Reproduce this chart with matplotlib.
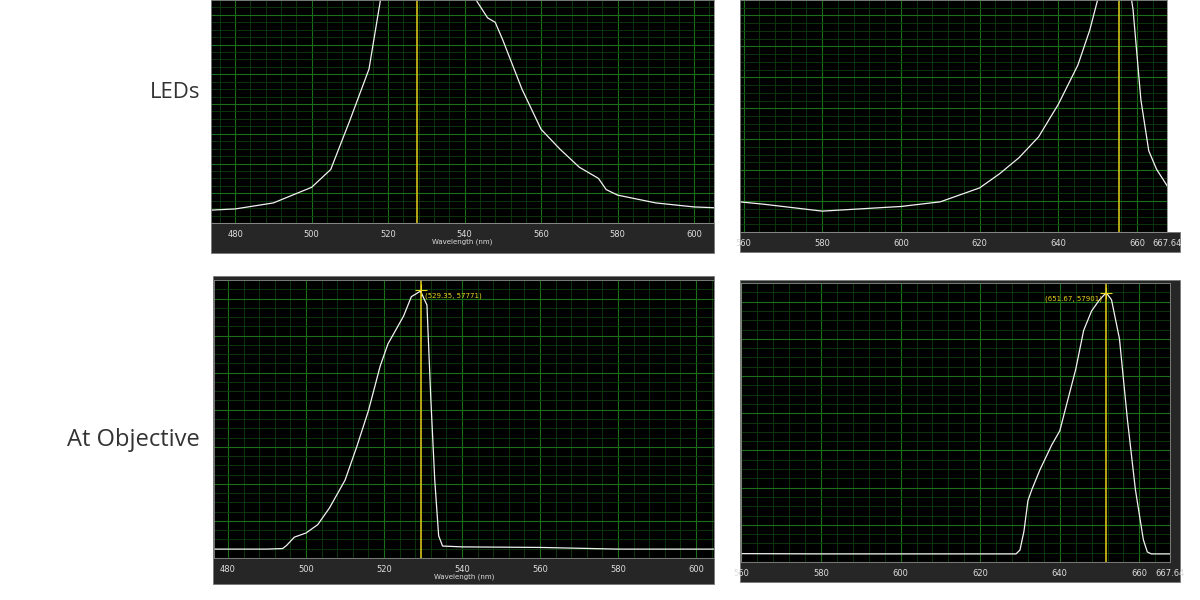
import matplotlib
matplotlib.use("Agg")
import matplotlib.pyplot as plt
import numpy as np
from matplotlib.patches import Rectangle
from matplotlib.ticker import MultipleLocator

# Relative intensity (fraction of visible plot height) vs wavelength
led_green_nm = [474, 480, 490, 500, 505, 510, 515, 518, 520, 525, 530, 535, 540, 543, 546, 548,
                550, 555, 560, 565, 570, 575, 577, 580, 590, 600, 606]
led_green_val = [0.058, 0.063, 0.09, 0.16, 0.24, 0.46, 0.69, 1.0, 1.1, 1.3, 1.35, 1.3, 1.15, 1.0,
                 0.92, 0.9, 0.82, 0.6, 0.42, 0.33, 0.25, 0.2, 0.15, 0.125, 0.09, 0.072, 0.068]
led_red_nm = [559, 565, 570, 580, 590, 600, 610, 620, 625, 630, 635, 640, 645, 648, 650, 655,
              659, 661, 663, 665, 667.64]
led_red_val = [0.13, 0.12, 0.11, 0.09, 0.1, 0.11, 0.13, 0.19, 0.25, 0.32, 0.41, 0.55, 0.72, 0.87,
               1.0, 1.4, 0.96, 0.57, 0.35, 0.27, 0.2]
obj_green_nm = [476, 490, 494, 495, 497, 500, 503, 506, 510, 513, 516, 519, 521, 523, 525, 527,
                529.35, 531, 532, 533, 534, 535, 540, 560, 580, 605]
obj_green_val = [0.032, 0.032, 0.034, 0.045, 0.075, 0.09, 0.12, 0.18, 0.28, 0.4, 0.53, 0.69, 0.77,
                 0.82, 0.87, 0.94, 0.96, 0.91, 0.57, 0.28, 0.08, 0.043, 0.04, 0.038, 0.032, 0.032]
obj_red_nm = [560, 580, 600, 629, 630, 631, 632, 633, 635, 638, 640, 642, 644, 646, 648, 650,
              651.67, 653, 655, 657, 659, 661, 662, 663, 667.6]
obj_red_val = [0.03, 0.029, 0.029, 0.029, 0.043, 0.11, 0.22, 0.26, 0.33, 0.42, 0.47, 0.58, 0.69,
               0.83, 0.9, 0.94, 0.965, 0.94, 0.8, 0.51, 0.26, 0.08, 0.036, 0.029, 0.029]

green_ticks = [480, 500, 520, 540, 560, 580, 600]
red_ticks = [560, 580, 600, 620, 640, 660, 667.64]
red_ticklabels = ["560", "580", "600", "620", "640", "660", "667.64"]

W, H = 1200, 600
fig = plt.figure(figsize=(12, 6), dpi=100)
fig.patch.set_facecolor("white")


def frac(x0, y0, x1, y1):
    return [x0 / W, 1 - y1 / H, (x1 - x0) / W, (y1 - y0) / H]


def panel(plot_px, band_px, xlim, ticks, ticklabels, xs, ys, vline, peak=None, show_xlabel=True):
    band = Rectangle((band_px[0] / W, 1 - band_px[3] / H), (band_px[2] - band_px[0]) / W,
                     (band_px[3] - band_px[1]) / H, transform=fig.transFigure,
                     facecolor="#262626", edgecolor="#777777", lw=0.6, zorder=-1)
    fig.add_artist(band)
    ax = fig.add_axes(frac(*plot_px))
    ax.set_facecolor("black")
    ax.set_xlim(*xlim)
    ax.set_ylim(0, 1)
    ax.set_xticks(ticks)
    ax.set_xticklabels(ticklabels)
    ax.xaxis.set_minor_locator(MultipleLocator(4))
    ax.yaxis.set_major_locator(MultipleLocator(1 / 7.5))
    ax.yaxis.set_minor_locator(MultipleLocator(1 / 30))
    ax.grid(which="major", axis="both", color="#1b6f1b", lw=0.8)
    ax.grid(which="minor", axis="both", color="#0c3d0c", lw=0.6)
    ax.set_axisbelow(True)
    ax.tick_params(axis="x", length=0, labelsize=6, colors="#dddddd", pad=5)
    ax.tick_params(axis="y", length=0, labelleft=False)
    ax.tick_params(which="minor", length=0)
    for s in ax.spines.values():
        s.set_color("#888888")
        s.set_linewidth(0.6)
    ax.axvline(vline, color="#d4c21a", lw=1.2)
    ax.plot(xs, ys, color="#f2f2f2", lw=0.9, clip_on=True)
    if show_xlabel:
        ax.set_xlabel("Wavelength (nm)", fontsize=5, color="#dddddd", labelpad=0)
    if peak is not None:
        px, py, txt, ha, dx = peak
        ax.plot([px], [py], marker="+", ms=9, color="#e8d41a", mew=0.8)
        ax.annotate(txt, (px, py), xytext=(dx, -4), textcoords="offset points",
                    ha=ha, va="center", fontsize=5, color="#e8d41a")
    return ax


panel((211, 0, 714, 223), (211, 223, 714, 253), (473.7, 605.2), green_ticks,
      [str(t) for t in green_ticks], led_green_nm, led_green_val, 527.6)
panel((740, 0, 1167, 232), (740, 232, 1180, 252), (559.1, 667.64), red_ticks,
      red_ticklabels, led_red_nm, led_red_val, 655.5, show_xlabel=False)
panel((214, 280, 714, 558), (213, 276, 714, 584), (476.4, 604.6), green_ticks,
      [str(t) for t in green_ticks], obj_green_nm, obj_green_val, 529.35,
      peak=(529.35, 0.965, "(529.35, 57771)", "left", 3))
panel((741, 283, 1170, 562), (740, 280, 1180, 582), (559.9, 667.7), red_ticks,
      red_ticklabels, obj_red_nm, obj_red_val, 651.67,
      peak=(651.67, 0.965, "(651.67, 57901)", "right", -3), show_xlabel=False)

fig.text(200 / W, 1 - 92 / H, "LEDs", ha="right", va="center", fontsize=16,
         color="#333333", family=["Open Sans", "DejaVu Sans"])
fig.text(200 / W, 1 - 440 / H, "At Objective", ha="right", va="center", fontsize=17,
         color="#333333", family=["Open Sans", "DejaVu Sans"])

fig.savefig("out.png", dpi=100)
